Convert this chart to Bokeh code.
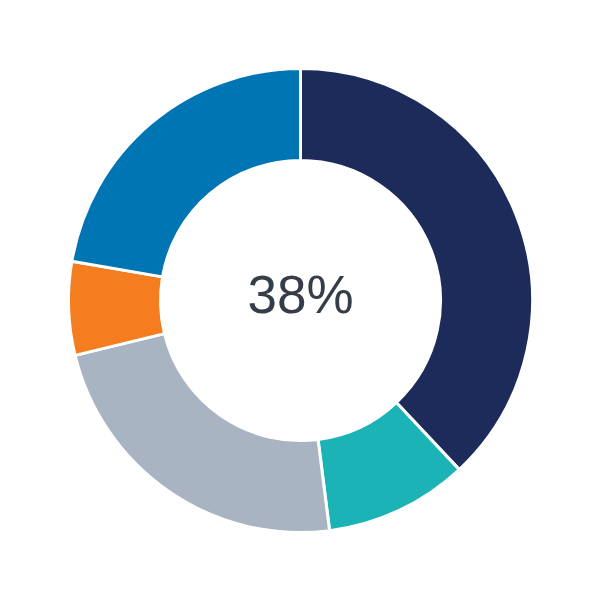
import numpy as np

from bokeh.core.properties import value
from bokeh.embed import file_html
from bokeh.models import ColumnDataSource, Range1d
from bokeh.plotting import figure
from bokeh.resources import INLINE

# shares, clockwise from twelve o'clock
labels = ["Navy", "Teal", "Gray", "Orange", "Blue"]
shares = [38.0, 10.0, 23.2, 6.5, 22.3]
colors = ["#1c2b5a", "#1bb3b6", "#a9b4c2", "#f47d20", "#0075b3"]
center_label = "38%"

frac = np.array(shares) / sum(shares)
ends = np.cumsum(frac)
starts = ends - frac

source = ColumnDataSource(dict(
	label=labels,
	color=colors,
	start=np.pi / 2 - 2 * np.pi * starts,
	end=np.pi / 2 - 2 * np.pi * ends,
))

p = figure(width=600, height=600, output_backend="svg", toolbar_location=None,
	x_range=Range1d(-300, 300), y_range=Range1d(-300, 300))
p.min_border = 0
p.axis.visible = False
p.grid.visible = False
p.outline_line_color = None

p.annular_wedge(x=0, y=0, inner_radius=140, outer_radius=232,
	start_angle="start", end_angle="end", direction="clock",
	fill_color="color", line_color="white", line_width=3, source=source)

p.text(x=[0], y=[6], text=[center_label], text_align="center",
	text_baseline="alphabetic", text_font=value("Liberation Sans"),
	text_font_size="53px", text_color="#343d48")

open("out.html", "w").write(file_html(p, INLINE))
